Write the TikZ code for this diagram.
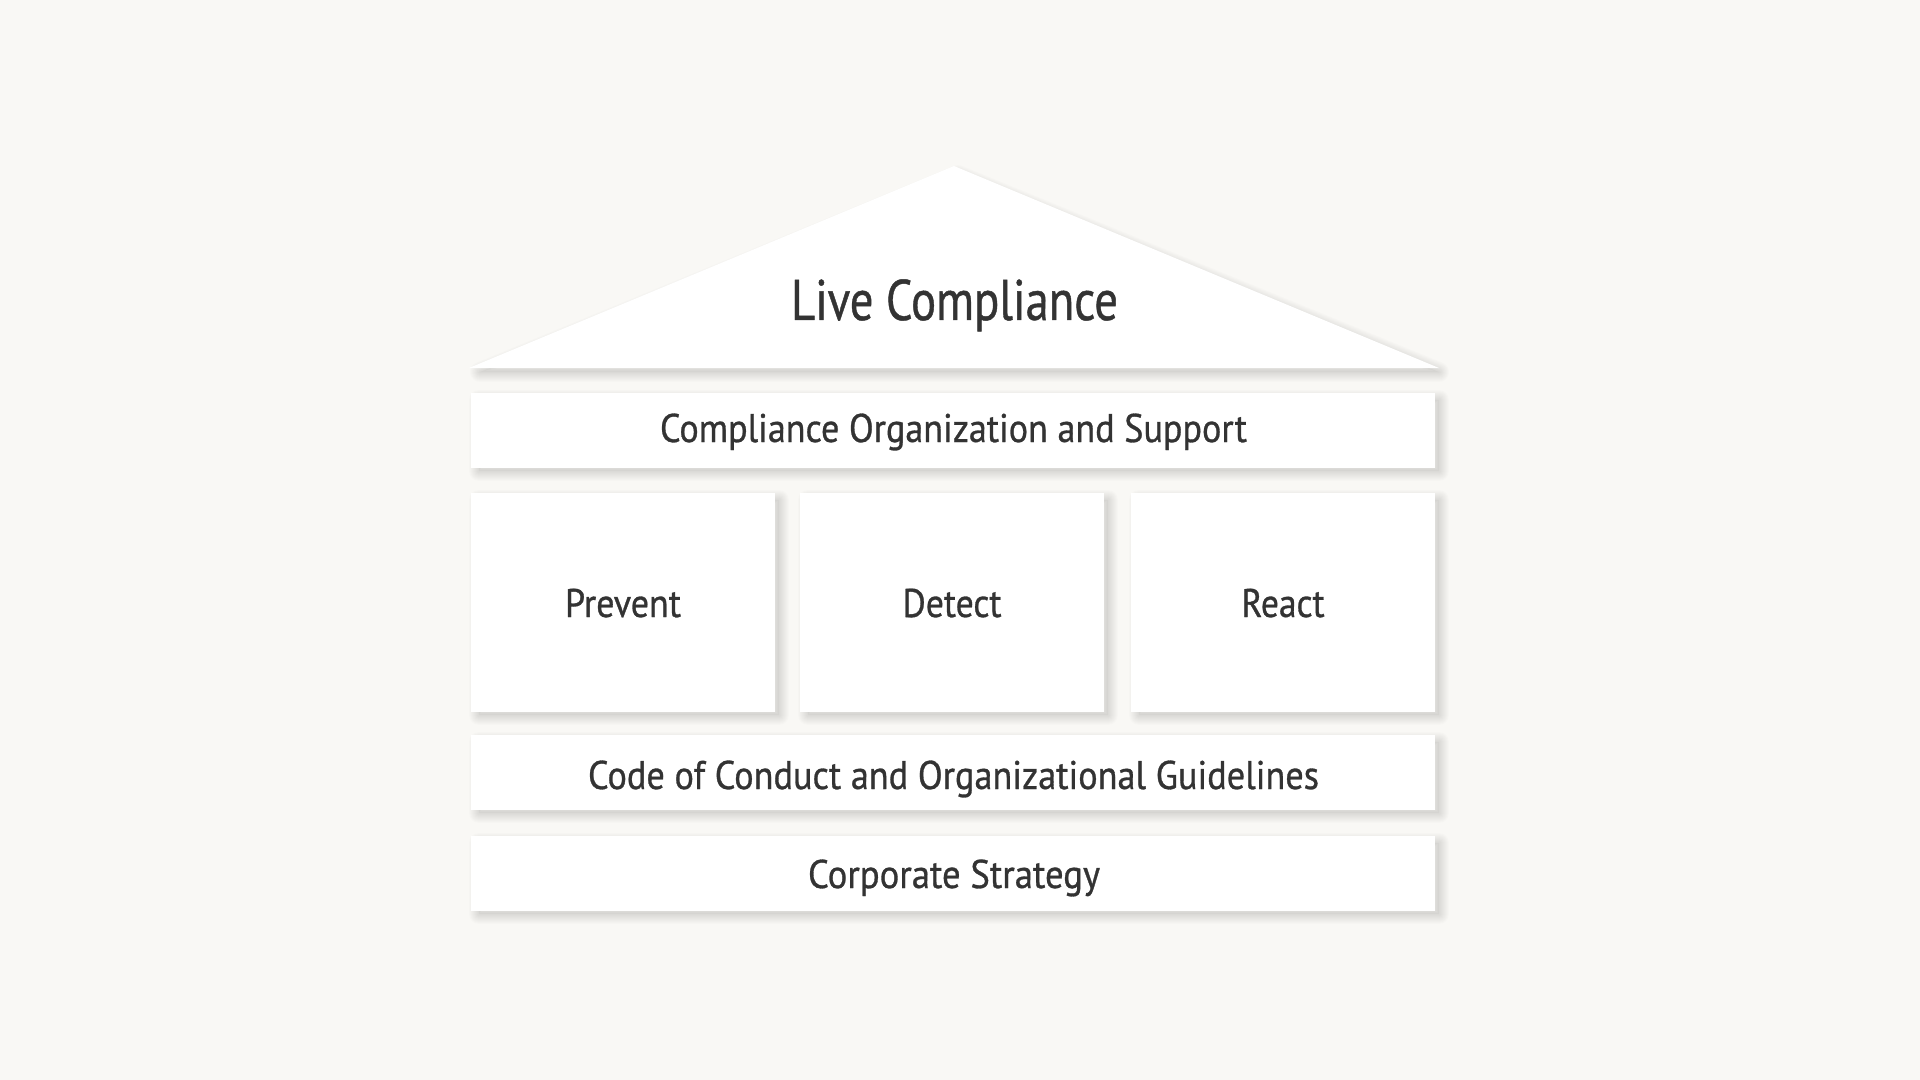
\documentclass[tikz,border=0pt]{standalone}
\usepackage{fontspec}
\setmainfont{PT Sans}[FakeBold=0.8]
\usepackage{graphicx}
\definecolor{bg}{HTML}{F9F8F5}
\definecolor{txt}{HTML}{333333}
\newcommand\fitw[2]{\setbox0\hbox{#2}\pgfmathsetmacro\sxfac{(#1)/\the\wd0}\scalebox{\sxfac}[1]{\box0}}
\newcommand\softshadow[1]{%
  \fill[black,fill opacity=0.025] #1;
  \foreach \w in {2,4,...,20}{\draw[black,draw opacity=0.011,line width=\w*0.5pt,line join=round] #1;}}
\newcommand\boxshadow[4]{%
  \softshadow{({#1+8},{#2+7}) rectangle ({#3+4},{#4+3})}}
\tikzset{
  panel/.style={fill=white},
  bandtext/.style={anchor=base, inner sep=0pt, text=txt, font=\fontsize{20}{24}\selectfont},
  rooftext/.style={anchor=base, inner sep=0pt, text=txt, font=\fontsize{28.6}{34}\selectfont},
}
\begin{document}
\begin{tikzpicture}[x=0.5pt,y=-0.5pt]
\fill[bg] (0,0) rectangle (1920,1080);
\useasboundingbox (0,0) rectangle (1920,1080);
% shadows
\begin{scope}[shift={(4,5)}]
\softshadow{(954,170) -- (1435,367) -- (476,367) -- cycle}
\end{scope}
\boxshadow{471}{393}{1435}{468}
\boxshadow{471}{493}{775}{712}
\boxshadow{800}{493}{1104}{712}
\boxshadow{1131}{493}{1435}{712}
\boxshadow{471}{735}{1435}{810}
\boxshadow{471}{836}{1435}{911}
% panels
\fill[panel] (954,166) -- (1439,368) -- (469,368) -- cycle;
\fill[panel] (471,393) rectangle (1435,468);
\fill[panel] (471,493) rectangle (775,712);
\fill[panel] (800,493) rectangle (1104,712);
\fill[panel] (1131,493) rectangle (1435,712);
\fill[panel] (471,735) rectangle (1435,810);
\fill[panel] (471,836) rectangle (1435,911);
% texts
\node[rooftext] (roof) at (954.5,320) {\fitw{163.5pt}{Live Compliance}};
\node[bandtext] (org) at (953.5,442) {\fitw{293.5pt}{Compliance Organization and Support}};
\node[bandtext] (prevent) at (623,617) {\fitw{58pt}{Prevent}};
\node[bandtext] (detect) at (952,617) {\fitw{49.5pt}{Detect}};
\node[bandtext] (react) at (1283,617) {\fitw{41.6pt}{React}};
\node[bandtext] (code) at (953.5,789) {\fitw{365.5pt}{Code of Conduct and Organizational Guidelines}};
\node[bandtext] (strategy) at (954,888) {\fitw{146pt}{Corporate Strategy}};
\end{tikzpicture}
\end{document}
